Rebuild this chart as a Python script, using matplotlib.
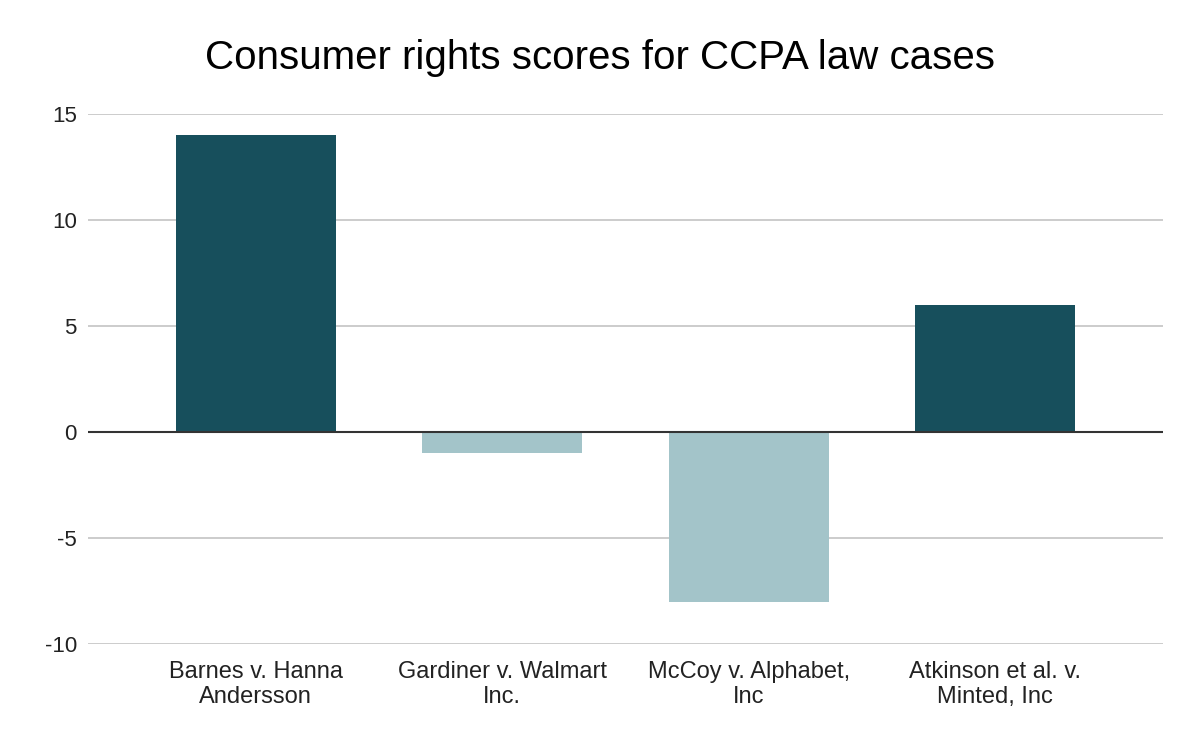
import numpy as np
import matplotlib.pyplot as plt

plt.rcParams['font.family'] = ['Liberation Sans', 'DejaVu Sans']

# data
cases = ["Barnes v. Hanna\nAndersson", "Gardiner v. Walmart\nInc.",
         "McCoy v. Alphabet,\nInc", "Atkinson et al. v.\nMinted, Inc"]
scores = [14, -1, -8, 6]
yticks = [-10, -5, 0, 5, 10, 15]

dark = "#174f5c"
light = "#a3c4c9"
cols = [dark if s >= 0 else light for s in scores]

fig = plt.figure(figsize=(12, 7.42), dpi=100)
ax = fig.add_axes([88/1200, 1-644/742, (1163-88)/1200, (644-114)/742])

x = np.arange(len(cases))
ax.bar(x, scores, width=0.65, color=cols, zorder=3)

ax.set_xlim(-0.68, 3.68)
ax.set_ylim(-10, 15)
ax.set_yticks(yticks)
ax.set_yticklabels([str(v) for v in yticks], fontsize=16, color="#222222")
ax.set_xticks(x)
ax.set_xticklabels(cases, fontsize=17, color="#222222", linespacing=1.2)
ax.tick_params(axis='both', length=0)
ax.tick_params(axis='y', pad=8)
ax.tick_params(axis='x', pad=12)

ax.grid(axis='y', color="#c8c8c8", linewidth=1.3, zorder=0)
ax.axhline(0, color="#333333", linewidth=1.5, zorder=4)
for s in ax.spines.values():
    s.set_visible(False)

fig.text(0.5, 1-58/742, "Consumer rights scores for CCPA law cases",
         ha='center', va='center', fontsize=29, color="#000000")

fig.savefig("out.png", dpi=100, facecolor="white")
